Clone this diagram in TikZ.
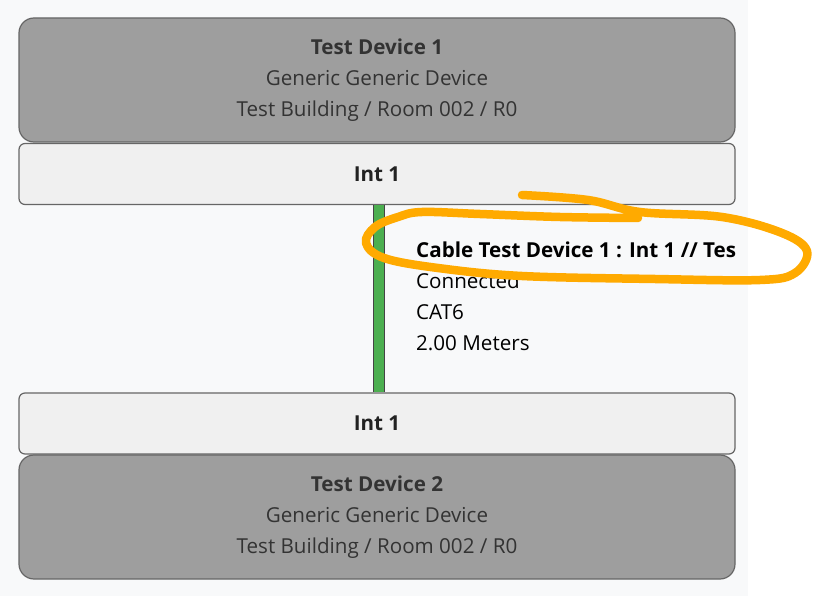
\documentclass[tikz,border=0pt]{standalone}
\usepackage{fontspec}
\setmainfont{Open Sans}
\definecolor{panel}{HTML}{F8F9FA}
\definecolor{devfill}{HTML}{9E9E9E}
\definecolor{boxline}{HTML}{666666}
\definecolor{intfill}{HTML}{F0F0F0}
\definecolor{cablegreen}{HTML}{4CAF50}
\definecolor{cableline}{HTML}{444444}
\definecolor{hilite}{HTML}{FFAA00}
\definecolor{devtext}{HTML}{333333}
\definecolor{inttext}{HTML}{222222}
\begin{document}
\begin{tikzpicture}[x=1pt,y=-1pt,
  devbox/.style={draw=boxline, line width=1.2pt, fill=devfill, rounded corners=15pt,
    minimum width=716pt, minimum height=124pt, inner sep=0pt, align=center,
    text=devtext, font=\fontsize{20.6}{31}\selectfont},
  intbox/.style={draw=boxline, line width=1.2pt, fill=intfill, rounded corners=6pt,
    minimum width=716pt, minimum height=61pt, inner sep=0pt,
    text=inttext, font=\fontsize{20.6}{24}\selectfont\bfseries},
  cable/.style={draw=cableline, line width=1pt, double=cablegreen, double distance=10pt},
  cablelabel/.style={align=left, inner sep=0pt, text=black, font=\fontsize{20.6}{31}\selectfont},
  scribble/.style={draw=hilite, line width=8.5pt, line cap=round, line join=round}]
\useasboundingbox (0,0) rectangle (815,596);
\fill[white] (0,0) rectangle (815,596);
\fill[panel] (0,0) rectangle (748,596);

\node[devbox] (dev1) at (377,80) {\textbf{Test Device 1}\\Generic Generic Device\\Test Building / Room 002 / R0};
\node[intbox] (int1) at (377,174) {Int 1};
\node[intbox] (int2) at (377,423.5) {Int 1};
\node[devbox] (dev2) at (377,517) {\textbf{Test Device 2}\\Generic Generic Device\\Test Building / Room 002 / R0};

\draw[cable] ([xshift=2pt]int1.south) -- ([xshift=2pt]int2.north);

\begin{scope}
\clip (0,0) rectangle (737,596);
\node[cablelabel, anchor=north west] (clabel) at (416,242) {\textbf{Cable Test Device 1 : Int 1 // Tes}\\Connected\\CAT6\\2.00 Meters};
\end{scope}

\draw[scribble] plot[smooth, tension=0.6] coordinates {
  (522,195) (588,200) (640,212) (722,217) (782,233) (807,251) (795,273) (760,280)
  (655,279) (522,276) (438,268) (384,258) (366,243) (375,227) (398,217) (422,212)
  (480,214) (560,217) (638,218)};
\end{tikzpicture}
\end{document}
